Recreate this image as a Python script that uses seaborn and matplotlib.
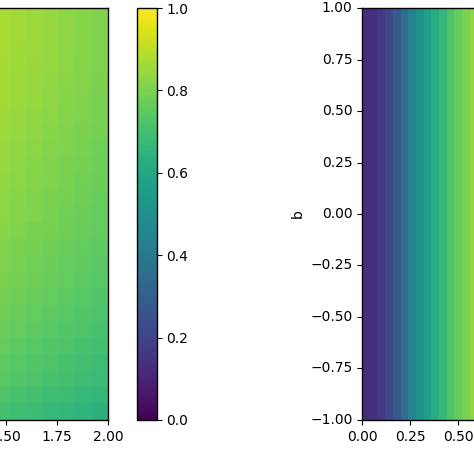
import numpy as np
import matplotlib
matplotlib.use("Agg")
import matplotlib.pyplot as plt
import seaborn as sns

# Left panel: value = x-profile + y-offset (x in [0,2], y in [-1,1], 25x25 cells)
left_x_profile = [0.95, 0.95, 0.95, 0.95, 0.94, 0.94, 0.94, 0.93, 0.93, 0.93, 0.92, 0.92, 0.91,
                  0.91, 0.90, 0.90, 0.89, 0.88, 0.87, 0.86, 0.85, 0.84, 0.83, 0.82, 0.81]
left_y_offset = [-0.17, -0.15, -0.13, -0.12, -0.11, -0.10, -0.09, -0.08, -0.07, -0.065, -0.06, -0.05,
                 -0.045, -0.04, -0.035, -0.03, -0.025, -0.02, -0.015, -0.01, -0.007, -0.004, -0.002, 0.0, 0.0]
# Right panel: value depends on a (x in [0,1]), constant in b; 25 columns
right_cols = [0.13, 0.14, 0.17, 0.22, 0.28, 0.35, 0.44, 0.50, 0.56, 0.62, 0.67, 0.72, 0.76,
              0.80, 0.83, 0.85, 0.87, 0.88, 0.89, 0.90, 0.90, 0.91, 0.91, 0.92, 0.92]
n_rows = 25
left_xticks = [1.50, 1.75, 2.00]
right_xticks = [0.00, 0.25, 0.50, 0.75, 1.00]
right_yticks = [-1.00, -0.75, -0.50, -0.25, 0.00, 0.25, 0.50, 0.75, 1.00]

left = np.array(left_y_offset)[:, None] + np.array(left_x_profile)[None, :]
right = np.tile(np.array(right_cols), (n_rows, 1))

fig = plt.figure(figsize=(4.74, 4.74), dpi=100)
axL = fig.add_axes([-0.633, 0.114, 0.861, 0.869])
cax = fig.add_axes([0.289, 0.114, 0.042, 0.869])
axR = fig.add_axes([0.764, 0.114, 0.405, 0.869])

sns.heatmap(left, ax=axL, cmap="viridis", vmin=0, vmax=1, cbar_ax=cax)
sns.heatmap(right, ax=axR, cmap="viridis", vmin=0, vmax=1, cbar=False)

for ax in (axL, axR):
    ax.set_ylim(0, n_rows)
    for s in ax.spines.values():
        s.set_visible(True)
        s.set_color("black")
        s.set_linewidth(1)
    ax.tick_params(labelsize=10, length=3.5)

axL.set_xticks([v / 2 * 25 for v in left_xticks])
axL.set_xticklabels([f"{v:.2f}" for v in left_xticks], rotation=0)
axL.set_yticks([])
axR.set_xticks([v * 25 for v in right_xticks])
axR.set_xticklabels([f"{v:.2f}" for v in right_xticks], rotation=0)
axR.set_yticks([(v + 1) / 2 * n_rows for v in right_yticks])
axR.set_yticklabels([f"{v:.2f}".replace("-", "\u2212") for v in right_yticks], rotation=0)
axR.set_ylabel("b", fontsize=10)

cb = axL.collections[0].colorbar
cb.set_ticks([0, 0.2, 0.4, 0.6, 0.8, 1.0])
cb.set_ticklabels(["0.0", "0.2", "0.4", "0.6", "0.8", "1.0"])
cb.outline.set_linewidth(1)
cb.outline.set_visible(True)
cax.tick_params(labelsize=10, length=3.5)

fig.savefig("out.png", dpi=100)
